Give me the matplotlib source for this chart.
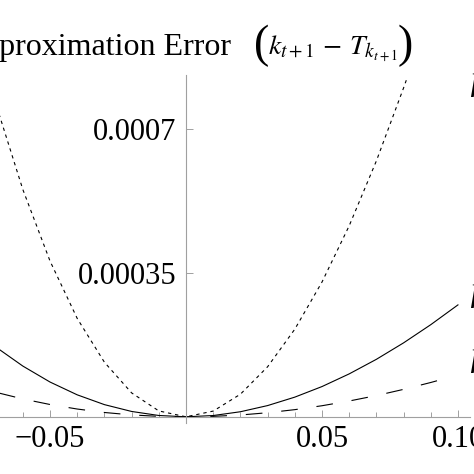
import matplotlib
matplotlib.use("Agg")
import matplotlib.pyplot as plt

plt.rcParams['font.family'] = ['Liberation Serif', 'DejaVu Serif']
plt.rcParams['mathtext.fontset'] = 'stix'

# values
x_vals = [-0.07, -0.06, -0.05, -0.04, -0.03, -0.02, -0.01, 0.0,
          0.01, 0.02, 0.03, 0.04, 0.05, 0.06, 0.07, 0.08, 0.09, 0.10]
err_solid = [1.699e-4, 1.233e-4, 8.45e-5, 5.34e-5, 2.96e-5, 1.30e-5, 3.2e-6, 0.0,
             3.1e-6, 1.23e-5, 2.73e-5, 4.78e-5, 7.35e-5, 1.043e-4, 1.397e-4,
             1.797e-4, 2.239e-4, 2.72e-4]
x_dotted = [-0.07, -0.06, -0.05, -0.04, -0.03, -0.02, -0.01, 0.0,
            0.01, 0.02, 0.03, 0.04, 0.05, 0.06, 0.07, 0.08, 0.081]
err_dotted = [7.62e-4, 5.524e-4, 3.785e-4, 2.39e-4, 1.326e-4, 5.81e-5, 1.43e-5, 0.0,
              1.39e-5, 5.49e-5, 1.216e-4, 2.129e-4, 3.275e-4, 4.642e-4, 6.219e-4,
              7.993e-4, 8.18e-4]
x_dashed = [-0.07, -0.06, -0.05, -0.04, -0.03, -0.02, -0.01, 0.0,
            0.01, 0.02, 0.03, 0.04, 0.05, 0.06, 0.07, 0.08, 0.09, 0.0985]
err_dashed = [5.97e-5, 4.34e-5, 2.99e-5, 1.89e-5, 1.05e-5, 4.6e-6, 1.1e-6, 0.0,
              1.1e-6, 4.4e-6, 9.9e-6, 1.74e-5, 2.69e-5, 3.84e-5, 5.16e-5,
              6.67e-5, 8.34e-5, 9.89e-5]

xticks = [-0.05, 0.05, 0.10]
xtick_labels = ["\u22120.05", "0.05", "0.10"]
yticks = [0.00035, 0.0007]
ytick_labels = ["0.00035", "0.0007"]
title_text = "Approximation Error"
title_math = r"$k_{t+1}\,-\,T_{k_{t+1}}$"

fig = plt.figure(figsize=(4.74, 4.74), dpi=100)
ax = fig.add_axes([0, 0, 1, 1])
ax.set_xlim(-0.0684, 0.1059)
ax.set_ylim(-0.000139, 0.001013)

ax.plot(x_vals, err_solid, color='black', lw=0.8)
ax.plot(x_dotted, err_dotted, color='black', lw=0.8, dashes=(3, 3.5))
ax.plot(x_dashed, err_dashed, color='black', lw=0.8, dashes=(15, 17))

for side in ['top', 'right']:
    ax.spines[side].set_visible(False)
for side in ['left', 'bottom']:
    ax.spines[side].set_position(('data', 0))
    ax.spines[side].set_color('#a0a0a0')
    ax.spines[side].set_linewidth(0.8)
ax.spines['left'].set_bounds(-0.000016, 0.00083)
ax.spines['bottom'].set_bounds(-0.07, 0.1044)

ax.set_xticks(xticks)
ax.set_xticklabels(xtick_labels)
ax.set_xticks([i / 100 for i in range(-6, 11) if i % 5 != 0], minor=True)
ax.set_yticks(yticks)
ax.set_yticklabels(ytick_labels)
ax.tick_params(axis='x', which='major', direction='in', length=5, width=0.7,
               color='#a0a0a0', labelsize=22, pad=6)
ax.tick_params(axis='x', which='minor', direction='in', length=3.5, width=0.7,
               color='#a0a0a0')
ax.tick_params(axis='y', which='major', direction='in', length=5, width=0.7,
               color='#a0a0a0', labelsize=22, pad=7)

fig.text(231, 419, title_text, transform=None, ha='right', va='baseline',
         fontsize=23)
fig.text(254, 417, "(", transform=None, ha='left', va='baseline', fontsize=33)
fig.text(333, 419, title_math, transform=None, ha='center', va='baseline',
         fontsize=20)
fig.text(413, 417, ")", transform=None, ha='right', va='baseline', fontsize=33)

for y, lab in [(377, "k"), (166, "k"), (101, "k")]:
    fig.text(469, y, lab, transform=None, fontsize=24, style='italic',
             ha='left', va='baseline')

fig.savefig("out.png", dpi=100)
